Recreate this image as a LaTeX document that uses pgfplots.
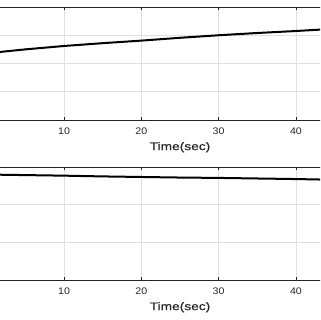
\documentclass[border=0pt]{standalone}
\usepackage{fontspec}
\setmainfont{Liberation Sans}
\newfontfamily\labfont[FakeStretch=1.25, FakeBold=0.6]{Liberation Sans}
\newfontfamily\tickfont[FakeStretch=1.12]{Liberation Sans}
\usepackage{pgfplots}
\pgfplotsset{compat=1.18}
\definecolor{axgray}{gray}{0.15}
\definecolor{gridgray}{gray}{0.88}
\pgfplotsset{
  mystyle/.style={
    scale only axis,
    width=386.6pt, height=113pt,
    xmin=0, xmax=50,
    xtick={0,10,20,30,40,50},
    xticklabels={,10,20,30,40,},
    grid=major,
    major grid style={gridgray, line width=0.5pt},
    axis line style={axgray, line width=0.6pt},
    tick style={axgray, line width=0.6pt},
    tick align=inside,
    major tick length=3pt,
    xtick pos=both, ytick pos=both,
    yticklabels=\empty,
    tick label style={font=\tickfont\fontsize{9.5}{10}\selectfont, text=axgray},
    xticklabel style={yshift=-4pt},
    xlabel={Time(sec)},
    xlabel style={font=\labfont\fontsize{11}{12}\selectfont, text=axgray, yshift=-1pt},
  }
}
\begin{document}
\begin{tikzpicture}
\begin{scope}
\clip (0,0) rectangle (320pt,320pt);
\begin{axis}[mystyle, at={(-13.3pt,200pt)}, anchor=south west,
  ymin=0, ymax=4, ytick={0,1,2,3,4}]
\addplot[black, line width=2pt] coordinates {
(0,2.36) (5,2.50) (10,2.62) (15,2.72) (20,2.81) (25,2.91) (30,3.00) (35,3.08) (40,3.15) (45,3.23) (50,3.29)};
\end{axis}
\begin{axis}[mystyle, at={(-13.3pt,40pt)}, anchor=south west,
  ymin=0, ymax=3, ytick={0,1,2,3}]
\addplot[black, line width=2pt] coordinates {
(0,2.80) (5,2.785) (10,2.77) (15,2.75) (20,2.735) (25,2.72) (30,2.71) (35,2.695) (40,2.68) (45,2.66) (50,2.645)};
\end{axis}
\end{scope}
\pgfresetboundingbox
\path[use as bounding box] (0,0) rectangle (320pt,320pt);
\end{tikzpicture}
\end{document}
